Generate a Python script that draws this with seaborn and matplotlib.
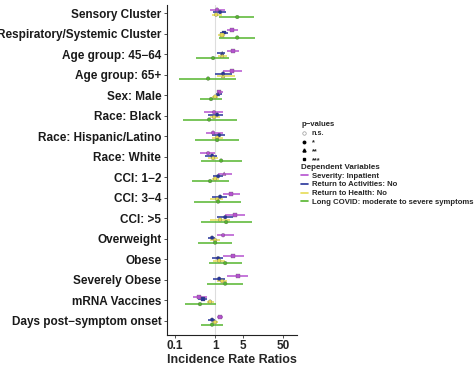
import numpy as np
import pandas as pd
import seaborn as sns
import matplotlib.pyplot as plt
from matplotlib.lines import Line2D

# categories (top to bottom)
preditores = ['Sensory Cluster', 'Respiratory/Systemic Cluster', 'Age group: 45\u221264',
              'Age group: 65+', 'Sex: Male', 'Race: Black', 'Race: Hispanic/Latino',
              'Race: White', 'CCI: 1\u22122', 'CCI: 3\u22124', 'CCI: >5', 'Overweight',
              'Obese', 'Severely Obese', 'mRNA Vaccines', 'Days post\u2212symptom onset']

variaveis = ['Severity: Inpatient', 'Return to Activities: No',
             'Return to Health: No', 'Long COVID: moderate to severe symptoms']

# Severity: Inpatient
sev_est = [1.12, 2.66, 2.82, 2.66, 1.26, 0.94, 0.89, 0.67, 1.68, 2.51, 3.16, 1.58, 2.82, 3.76, 0.40, 1.33]
sev_lo = [0.75, 2.00, 2.00, 1.58, 1.12, 0.53, 0.60, 0.42, 1.19, 1.58, 1.78, 1.12, 1.58, 2.00, 0.28, 1.12]
sev_hi = [1.78, 3.76, 3.98, 4.73, 1.58, 1.58, 1.58, 1.00, 2.66, 4.22, 5.60, 2.99, 5.30, 6.70, 0.63, 1.58]
sev_p = ['n.s.', '***', '***', '***', '***', 'n.s.', 'n.s.', '*', '**', '***', '***', '*', '***', '***', '***', '***']

# Return to Activities: No
ativ_est = [1.33, 1.68, 1.50, 1.58, 1.19, 1.12, 1.26, 0.84, 1.19, 1.33, 1.78, 0.84, 1.19, 1.26, 0.50, 0.84]
ativ_lo = [0.89, 1.33, 1.12, 1.00, 1.06, 0.67, 0.84, 0.56, 0.89, 0.84, 1.12, 0.67, 0.84, 0.89, 0.38, 0.67]
ativ_hi = [1.88, 2.11, 1.78, 2.66, 1.50, 1.58, 1.78, 1.12, 1.58, 2.00, 2.82, 1.00, 1.58, 1.78, 0.63, 1.00]
ativ_p = ['n.s.', '***', '**', '*', '**', 'n.s.', 'n.s.', 'n.s.', 'n.s.', 'n.s.', '*', '*', 'n.s.', 'n.s.', '***', '*']

# Return to Health: No
saude_est = [1.06, 1.50, 1.50, 1.58, 1.00, 0.94, 1.12, 0.89, 1.00, 1.12, 1.33, 1.00, 1.26, 1.50, 0.75, 1.00]
saude_lo = [0.84, 1.19, 1.19, 1.12, 0.84, 0.75, 0.84, 0.67, 0.84, 0.75, 0.75, 0.75, 0.89, 1.12, 0.63, 0.84]
saude_hi = [1.50, 1.78, 2.00, 3.16, 1.19, 1.33, 1.58, 1.19, 1.26, 1.58, 2.37, 1.33, 1.78, 2.00, 0.94, 1.19]
saude_p = ['n.s.', '***', '**', '**', 'n.s.', 'n.s.', 'n.s.', 'n.s.', 'n.s.', 'n.s.', 'n.s.', 'n.s.', 'n.s.', '*', '*', 'n.s.']

# Long COVID: moderate to severe symptoms
long_est = [3.55, 3.55, 0.89, 0.67, 0.79, 0.71, 1.12, 1.41, 0.75, 1.19, 1.88, 1.00, 1.78, 1.78, 0.42, 0.84]
long_lo = [1.26, 1.26, 0.34, 0.13, 0.42, 0.16, 0.32, 0.45, 0.27, 0.30, 0.45, 0.38, 0.71, 0.63, 0.18, 0.45]
long_hi = [9.40, 10.0, 2.24, 3.35, 1.50, 3.55, 3.98, 4.73, 2.24, 4.47, 8.40, 2.66, 4.73, 5.00, 1.06, 1.58]
long_p = ['*', '*', 'n.s.', 'n.s.', 'n.s.', 'n.s.', 'n.s.', 'n.s.', 'n.s.', 'n.s.', 'n.s.', 'n.s.', 'n.s.', 'n.s.', 'n.s.', 'n.s.']

cores = ['#b552cf', '#26349a', '#e6dc55', '#55b52e']
marcadores = {'n.s.': 'o', '*': 'o', '**': '^', '***': 's'}

# montar tabela longa
partes = []
for nome, est, lo, hi, p in zip(variaveis,
                                [sev_est, ativ_est, saude_est, long_est],
                                [sev_lo, ativ_lo, saude_lo, long_lo],
                                [sev_hi, ativ_hi, saude_hi, long_hi],
                                [sev_p, ativ_p, saude_p, long_p]):
    partes.append(pd.DataFrame({'preditor': preditores, 'variavel': nome,
                                'est': est, 'lo': lo, 'hi': hi, 'p': p}))
df = pd.concat(partes, ignore_index=True)

desloc = {v: d for v, d in zip(variaveis, [-0.18, -0.06, 0.06, 0.18])}
df['y'] = df['preditor'].map({p: i for i, p in enumerate(preditores)}) + df['variavel'].map(desloc)

sns.set_style('white')
plt.rcParams['font.family'] = ['Liberation Sans', 'DejaVu Sans']

fig = plt.figure(figsize=(4.74, 3.68), dpi=100)
ax = fig.add_axes([0.352, 0.09, 0.275, 0.896])

ax.axvline(1, color='#dddddd', lw=0.8, zorder=0)

for v, c in zip(variaveis, cores):
    sub = df[df['variavel'] == v]
    ax.hlines(sub['y'], sub['lo'], sub['hi'], color=c, lw=1.1, zorder=2)

sns.scatterplot(data=df, x='est', y='y', hue='variavel', palette=cores,
                style='p', markers=marcadores, s=7, linewidth=0.2,
                edgecolor='#555555', legend=False, ax=ax, zorder=3)

ax.set_xscale('log')
ax.set_xlim(0.063, 110)
ax.set_ylim(15.68, -0.4)
ax.set_xticks([0.1, 1, 5, 50])
ax.set_xticklabels(['0.1', '1', '5', '50'], fontsize=8.5, fontweight='bold')
ax.minorticks_off()
ax.set_yticks(range(len(preditores)))
ax.set_yticklabels(preditores, fontsize=8.45, fontweight='bold', color='#1a1a1a')
ax.tick_params(axis='both', length=2, width=0.6, color='#333333', pad=2, left=True, bottom=True)
ax.set_xlabel('Incidence Rate Ratios', fontsize=9, fontweight='bold', labelpad=1)
ax.set_ylabel('')

for lado in ['top', 'right']:
    ax.spines[lado].set_visible(False)
for lado in ['left', 'bottom']:
    ax.spines[lado].set_color('#222222')
    ax.spines[lado].set_linewidth(0.8)

# legendas
h_p = [Line2D([], [], ls='', marker='o', mfc='white', mec='#999999', ms=2.5, mew=0.5),
       Line2D([], [], ls='', marker='o', color='black', ms=1.8),
       Line2D([], [], ls='', marker='^', color='black', ms=2.2),
       Line2D([], [], ls='', marker='s', color='black', ms=1.8)]
leg1 = fig.legend(h_p, ['n.s.', '*', '**', '***'], title='p\u2212values',
                  loc='upper left', bbox_to_anchor=(0.636, 0.67), frameon=False,
                  prop={'size': 5.2, 'weight': 'bold'}, handlelength=0.8,
                  handletextpad=0.6, labelspacing=0.25, borderpad=0, borderaxespad=0)
leg1.get_title().set_fontsize(5.6)
leg1.get_title().set_fontweight('bold')
leg1._legend_box.align = 'left'

h_v = [Line2D([], [], color=c, lw=1.2) for c in cores]
leg2 = fig.legend(h_v, variaveis, title='Dependent Variables',
                  loc='upper left', bbox_to_anchor=(0.636, 0.555), frameon=False,
                  prop={'size': 5.6, 'weight': 'bold'}, handlelength=0.8,
                  handletextpad=0.6, labelspacing=0.18, borderpad=0, borderaxespad=0)
leg2.get_title().set_fontsize(5.8)
leg2.get_title().set_fontweight('bold')
leg2._legend_box.align = 'left'

fig.savefig('out.png', dpi=100)
